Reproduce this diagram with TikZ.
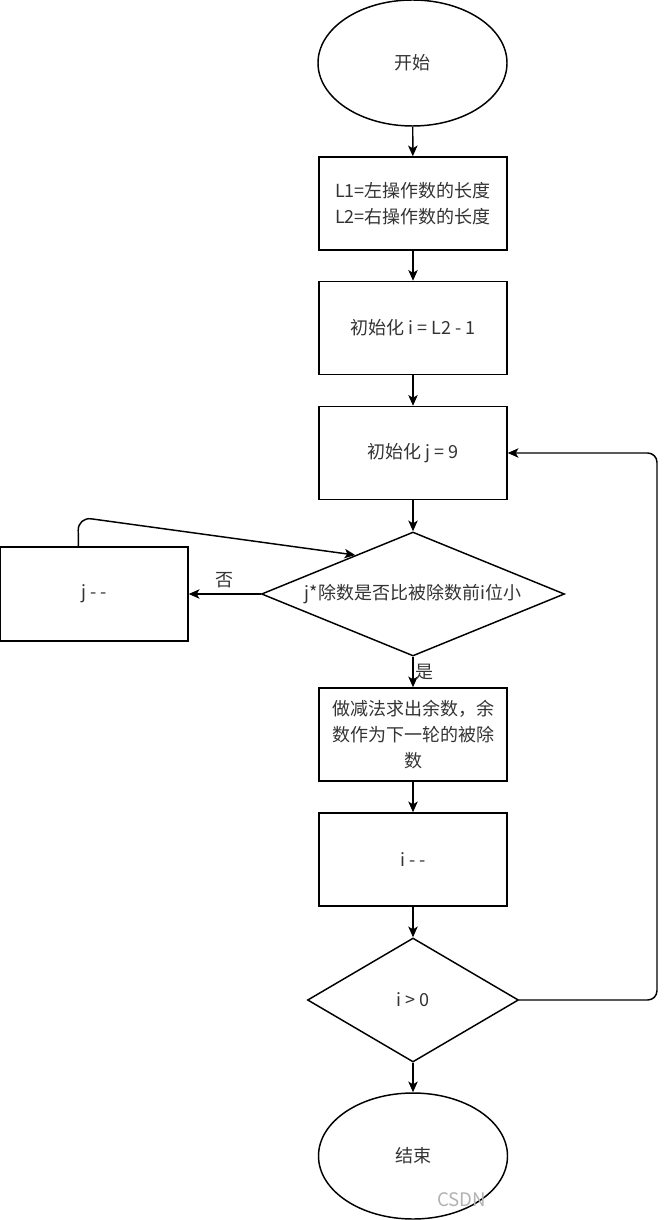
\documentclass[tikz,border=0pt]{standalone}
\usepackage{fontspec}
\setmainfont{Noto Sans CJK SC}
\usetikzlibrary{shapes.geometric,arrows.meta}

\begin{document}
\begin{tikzpicture}[x=0.75pt,y=-0.75pt,
    font=\fontsize{13.5pt}{19.5pt}\selectfont,
    every node/.style={text=black!80},
    terminal/.style={ellipse,draw,line width=1.1pt,minimum width=141.75pt,minimum height=94.5pt,inner sep=0pt},
    process/.style={rectangle,draw,line width=1.1pt,minimum width=141pt,minimum height=69.75pt,align=center,inner sep=2pt},
    decision/.style={diamond,draw,line width=1.1pt,minimum height=93pt,inner sep=0pt},
    flow/.style={line width=1.1pt,-{Stealth[length=8pt,width=7pt,inset=2pt]}}]
\useasboundingbox (0,0) rectangle (670,1220);
\node[terminal] (start) at (412.5,63) {开始};
\node[process] (len) at (413,203.5) {L1=左操作数的长度\\L2=右操作数的长度};
\node[process] (initi) at (413,328) {初始化 i = L2 - 1};
\node[process] (initj) at (413,453) {初始化 j = 9};
\node[decision,minimum width=227.25pt,shape aspect=2.44] (cmp) at (413,594) {j*除数是否比被除数前i位小};
\node[process,minimum height=70.5pt] (jdec) at (94,594) {j - -};
\node[process] (sub) at (413,734.5) {做减法求出余数，余\\数作为下一轮的被除\\数};
\node[process] (idec) at (413,859.5) {i - -};
\node[decision,minimum width=158.25pt,shape aspect=1.7] (test) at (413,1000) {i > 0};
\node[terminal] (stop) at (413,1156) {结束};
\node[text=black!30,anchor=west,inner sep=0pt,font=\fontsize{14pt}{16pt}\selectfont] (mark) at (437,1200) {CSDN};
\coordinate (bend) at (78,517);
\coordinate (rail) at (657,453);
\draw[flow] (start) -- (len);
\draw[flow] (len) -- (initi);
\draw[flow] (initi) -- (initj);
\draw[flow] (initj) -- (cmp);
\draw[flow] (cmp.west) -- node[above,yshift=1pt] {否} (jdec.east);
\draw[flow] (cmp.south) -- node[right,inner sep=1pt] {是} (sub.north);
\draw[flow,rounded corners=10pt] (jdec.108.6) -- (bend) -- (cmp.146);
\draw[flow] (sub) -- (idec);
\draw[flow] (idec) -- (test);
\draw[flow] (test) -- (stop);
\draw[flow,rounded corners=7pt] (test.east) -| (rail) -- (initj.east);
\end{tikzpicture}
\end{document}
